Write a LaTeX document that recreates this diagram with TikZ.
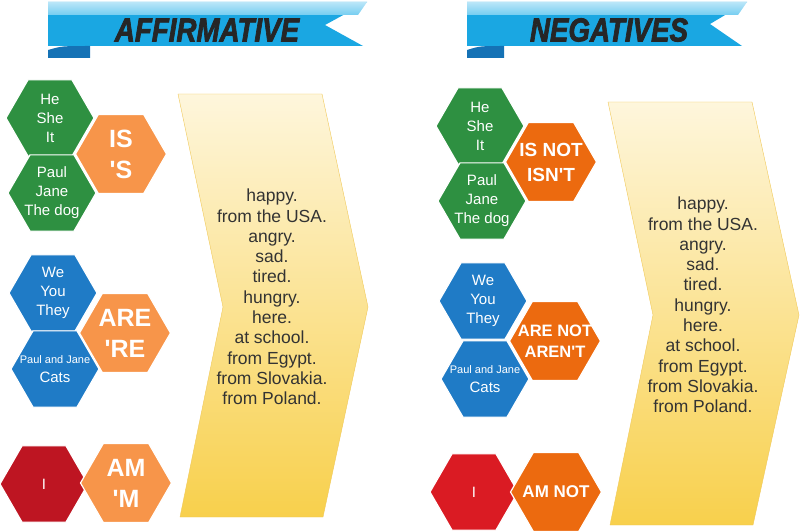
\documentclass[tikz,border=0pt]{standalone}
\usepackage{fontspec}
\setmainfont{Liberation Sans}
\newfontfamily\bannerfont{Liberation Sans}[BoldItalicFeatures={FakeBold=2.5}]
\usetikzlibrary{shapes.geometric}
\definecolor{ribbon}{HTML}{1AA7E2}
\definecolor{ribbonlight}{HTML}{8CD6F4}
\definecolor{ribbonfold}{HTML}{1572B5}
\definecolor{hexgreen}{HTML}{2E9041}
\definecolor{hexblue}{HTML}{1F7BC6}
\definecolor{orangelight}{HTML}{F7954A}
\definecolor{orangedark}{HTML}{EC6A0F}
\definecolor{redlight}{HTML}{BE1522}
\definecolor{reddark}{HTML}{DA1B23}
\definecolor{goldtop}{HTML}{FEF6DC}
\definecolor{goldbottom}{HTML}{F8D04C}
\definecolor{goldline}{HTML}{F0C858}
\definecolor{listgray}{HTML}{333333}
\newcommand\apo{\textquotesingle}

\begin{document}
\begin{tikzpicture}[x=1pt,y=-1pt,
    hexa/.style={regular polygon,regular polygon sides=6,minimum size=88pt,inner sep=-14pt,
      draw=white,line width=1.2pt,text=white,align=center},
    pron/.style={hexa,font=\fontsize{15}{19}\selectfont},
    verb/.style={hexa,minimum size=91pt,font=\bfseries\fontsize{25}{31}\selectfont},
    listtext/.style={align=center,text=listgray,font=\fontsize{17.5}{20.3}\selectfont},
    title/.style={text=black!85,font=\fontsize{33}{33}\selectfont}]
  \useasboundingbox (0,0) rectangle (800,532);

  % ribbons
  \fill[ribbon] (48,2) -- (367,2) -- (325,25) -- (363,46) -- (48,46) -- cycle;
  \shade[top color=ribbonlight!60!white,bottom color=ribbonlight!80!ribbon] (48,2) -- (367,2) -- (358,15) -- (48,15) -- cycle;
  \fill[ribbonfold] (48,50) .. controls (62,46) .. (90,46) -- (90,58) -- (48,58) -- cycle;
  \node[title] (affirm) at (207,30) {\scalebox{0.84}[1]{\bannerfont\bfseries\itshape AFFIRMATIVE}};

  \fill[ribbon] (467,2) -- (747,2) -- (710,24) -- (742,46) -- (467,46) -- cycle;
  \shade[top color=ribbonlight!60!white,bottom color=ribbonlight!80!ribbon] (467,2) -- (747,2) -- (738,15) -- (467,15) -- cycle;
  \fill[ribbonfold] (467,50) .. controls (480,46) .. (504,46) -- (504,58) -- (467,58) -- cycle;
  \node[title] (negat) at (609,30) {\scalebox{0.84}[1]{\bannerfont\bfseries\itshape NEGATIVES}};

  % affirmative
  \shade[top color=goldtop,bottom color=goldbottom,draw=goldline] (178,94) -- (322,94) -- (368,307)
        -- (323,517) -- (180,517) -- (223,307) -- cycle;
  \node[listtext] (listL) at (272,297) {happy.\\from the USA.\\angry.\\sad.\\tired.\\hungry.\\here.\\at school.\\from Egypt.\\from Slovakia.\\from Poland.};

  \node[pron,fill=hexgreen] (heL) at (50,118) {He\\She\\It};
  \node[pron,fill=hexgreen] (paulL) at (52,193) {Paul\\Jane\\The dog};
  \node[verb,fill=orangelight] (isL) at (121,154) {IS\\\apo S};
  \node[pron,fill=hexblue] (weL) at (53,293) {We\\You\\They};
  \node[pron,fill=hexblue] (catsL) at (55,369) {{\fontsize{11}{13}\selectfont Paul and Jane}\\Cats};
  \node[verb,fill=orangelight] (areL) at (125,333) {ARE\\\apo RE};
  \node[pron,fill=redlight] (iL) at (44,484) {I};
  \node[verb,fill=orangelight] (amL) at (126,483) {AM\\\apo M};

  % negatives
  \begin{scope}[shift={(430,8)}]
    \shade[top color=goldtop,bottom color=goldbottom,draw=goldline] (178,94) -- (322,94) -- (369,307)
          -- (323,517) -- (180,517) -- (223,307) -- cycle;
    \node[listtext] (listR) at (273,297) {happy.\\from the USA.\\angry.\\sad.\\tired.\\hungry.\\here.\\at school.\\from Egypt.\\from Slovakia.\\from Poland.};

    \node[pron,fill=hexgreen] (heR) at (50,118) {He\\She\\It};
    \node[pron,fill=hexgreen] (paulR) at (52,193) {Paul\\Jane\\The dog};
    \node[verb,fill=orangedark,font=\bfseries\fontsize{19}{25}\selectfont] (isR) at (121,154) {IS NOT\\ISN\apo T};
    \node[pron,fill=hexblue] (weR) at (53,293) {We\\You\\They};
    \node[pron,fill=hexblue] (catsR) at (55,371) {{\fontsize{11}{13}\selectfont Paul and Jane}\\Cats};
    \node[verb,fill=orangedark,font=\bfseries\fontsize{16.5}{21}\selectfont] (areR) at (125,333) {ARE NOT\\AREN\apo T};
    \node[pron,fill=reddark] (iR) at (44,484) {I};
    \node[verb,fill=orangedark,font=\bfseries\fontsize{17}{21}\selectfont] (amR) at (126,484) {AM NOT};
  \end{scope}
\end{tikzpicture}
\end{document}
